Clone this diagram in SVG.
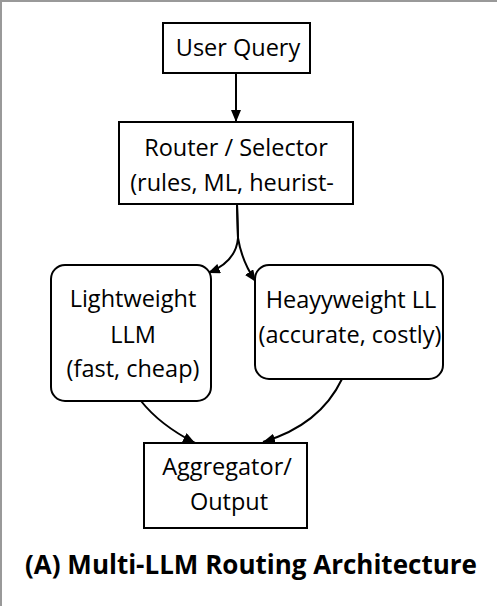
<svg xmlns="http://www.w3.org/2000/svg" width="497" height="606" viewBox="0 0 497 606">
<style>
.box{fill:#fff;stroke:#000;stroke-width:2}
.t{font-family:"Open Sans","Noto Sans",sans-serif;font-size:23.5px;fill:#000;text-anchor:middle}
.title{font-family:"Open Sans","Noto Sans",sans-serif;font-size:26px;font-weight:bold;fill:#000;text-anchor:middle}
.c{fill:none;stroke:#000;stroke-width:2}
</style>
<defs>
<marker id="ah" viewBox="0 0 12 10" refX="12" refY="5" markerWidth="12" markerHeight="10" markerUnits="userSpaceOnUse" orient="auto">
<path d="M0,0 L12,5 L0,10 Z" fill="#000"/>
</marker>
</defs>
<rect x="0" y="0" width="497" height="606" fill="#fff"/>
<path d="M1,606 V1 H497" fill="none" stroke="#999" stroke-width="2"/>
<g id="connectors">
<path class="c" d="M236,73 V122" marker-end="url(#ah)"/>
<path class="c" d="M237,204 L238,238 Q236,262 208,273" marker-end="url(#ah)"/>
<path class="c" d="M237,204 L238,238 Q242,262 256,282" marker-end="url(#ah)"/>
<path class="c" d="M141,401 Q160,425 195,443" marker-end="url(#ah)"/>
<path class="c" d="M342,379 Q320,425 263,442" marker-end="url(#ah)"/>
</g>
<g id="user-query">
<rect class="box" x="163" y="23" width="147" height="50"/>
<text class="t" x="238" y="56">User Query</text>
</g>
<g id="router">
<rect class="box" x="119" y="122" width="234" height="82"/>
<text class="t" x="236" y="156">Router / Selector</text>
<text class="t" x="232" y="191">(rules, ML, heurist-</text>
</g>
<g id="lightweight">
<rect class="box" x="51" y="265" width="160" height="136" rx="14"/>
<text class="t" x="133" y="307">Lightweight</text>
<text class="t" x="133" y="343">LLM</text>
<text class="t" x="133" y="377">(fast, cheap)</text>
</g>
<g id="heavyweight">
<rect class="box" x="255" y="265" width="188" height="114" rx="14"/>
<text class="t" x="351" y="308">Heayyweight LL</text>
<text class="t" x="350" y="343">(accurate, costly)</text>
</g>
<g id="aggregator">
<rect class="box" x="144" y="443" width="163" height="85"/>
<text class="t" x="227" y="475">Aggregator/</text>
<text class="t" x="229" y="510">Output</text>
</g>
<text class="title" x="251" y="574">(A) Multi-LLM Routing Architecture</text>
</svg>
